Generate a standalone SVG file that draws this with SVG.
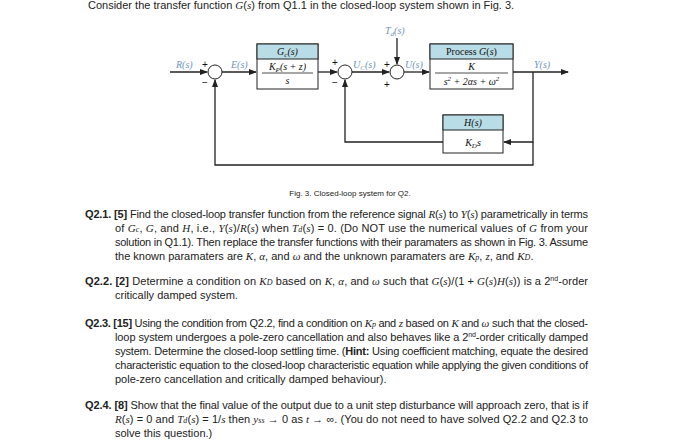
<svg xmlns="http://www.w3.org/2000/svg" width="700" height="447" viewBox="0 0 700 447">
<style>
.t{font-family:"Liberation Sans",Arial,sans-serif;font-size:11px;fill:#222}
.m{font-family:"Liberation Serif",serif;font-style:italic}
.b{font-weight:bold}
.lbl{font-family:"Liberation Serif",serif;font-style:italic;font-size:10px;fill:#6f93bd}
.sg{font-family:"Liberation Sans",sans-serif;font-size:10px;fill:#111}
.box{fill:#fff;stroke:#222;stroke-width:1}
.hd{fill:#b9dde6;stroke:#222;stroke-width:1}
.bt{font-family:"Liberation Serif",serif;font-size:10px;fill:#111;text-anchor:middle}
.ln{fill:none;stroke:#222;stroke-width:1.3}
.sum{fill:#fff;stroke:#222;stroke-width:1}
</style>
<defs><marker id="a" markerWidth="8" markerHeight="6" refX="7" refY="3" orient="auto" markerUnits="userSpaceOnUse"><path d="M0,0 L8,3 L0,6z" fill="#222"/></marker></defs>
<rect width="700" height="447" fill="#fff"/>
<text class="t" x="88" y="9">Consider the transfer function <tspan class="m">G</tspan>(<tspan class="m">s</tspan>) from Q1.1 in the closed-loop system shown in Fig. 3.</text>
<g id="connectors">
<path class="ln" d="M170,72 H207" marker-end="url(#a)"/>
<path class="ln" d="M222,72 H256" marker-end="url(#a)"/>
<path class="ln" d="M318,72 H337" marker-end="url(#a)"/>
<path class="ln" d="M352,72 H389" marker-end="url(#a)"/>
<path class="ln" d="M397,38 V64" marker-end="url(#a)"/>
<path class="ln" d="M404,72 H429" marker-end="url(#a)"/>
<path class="ln" d="M513,72 H568" marker-end="url(#a)"/>
<path class="ln" d="M533,72 V142 H504" marker-end="url(#a)"/>
<path class="ln" d="M443,142 H345 V80" marker-end="url(#a)"/>
<path class="ln" d="M533,142 V165 H215 V80" marker-end="url(#a)"/>
</g>
<g id="sum1"><circle class="sum" cx="215" cy="72" r="7"/><text class="sg" x="202" y="68">+</text><text class="sg" x="202" y="86">−</text></g>
<g id="sum2"><circle class="sum" cx="345" cy="72" r="7"/><text class="sg" x="332" y="66">+</text><text class="sg" x="332" y="86">−</text></g>
<g id="sum3"><circle class="sum" cx="397" cy="72" r="7"/><text class="sg" x="384" y="68">+</text><text class="sg" x="384" y="88">+</text></g>
<g id="labels">
<text class="lbl" x="176" y="68">R(s)</text>
<text class="lbl" x="231" y="68">E(s)</text>
<text class="lbl" x="353" y="68">U<tspan font-size="7" dy="2">C</tspan><tspan dy="-2">(s)</tspan></text>
<text class="lbl" x="405" y="68">U(s)</text>
<text class="lbl" x="385" y="34">T<tspan font-size="7" dy="2">d</tspan><tspan dy="-2">(s)</tspan></text>
<text class="lbl" x="534" y="68">Y(s)</text>
</g>
<g id="gc">
<rect class="box" x="257" y="44" width="61" height="45"/><rect class="hd" x="257" y="44" width="61" height="15"/>
<text class="bt" x="287.5" y="55"><tspan font-style="italic">G<tspan font-size="7" dy="2">c</tspan><tspan dy="-2">(s)</tspan></tspan></text>
<text class="bt" x="287.5" y="70" font-style="italic">K<tspan font-size="7" dy="2">P</tspan><tspan dy="-2">(s + z)</tspan></text>
<line x1="262" y1="73" x2="313" y2="73" stroke="#222" stroke-width="0.8"/>
<text class="bt" x="287.5" y="84" font-style="italic">s</text>
</g>
<g id="process">
<rect class="box" x="430" y="44" width="83" height="45"/><rect class="hd" x="430" y="44" width="83" height="15"/>
<text class="bt" x="471.5" y="55">Process <tspan font-style="italic">G</tspan>(<tspan font-style="italic">s</tspan>)</text>
<text class="bt" x="471.5" y="70" font-style="italic">K</text>
<line x1="435" y1="73" x2="508" y2="73" stroke="#222" stroke-width="0.8"/>
<text class="bt" x="471.5" y="85" font-style="italic">s<tspan font-size="7" dy="-4">2</tspan><tspan dy="4"> + 2αs + ω</tspan><tspan font-size="7" dy="-4">2</tspan></text>
</g>
<g id="h">
<rect class="box" x="443" y="115" width="60" height="38"/><rect class="hd" x="443" y="115" width="60" height="15"/>
<text class="bt" x="473" y="126" font-style="italic">H(s)</text>
<text class="bt" x="473" y="146" font-style="italic">K<tspan font-size="7" dy="2">D</tspan><tspan dy="-2">s</tspan></text>
</g>
<text class="t" x="350" y="196" style="font-size:8px" text-anchor="middle">Fig. 3. Closed-loop system for Q2.</text>
<g id="text">
<text class="t" x="85" y="218" textLength="503" lengthAdjust="spacing"><tspan class="b">Q2.1. [5]</tspan> Find the closed-loop transfer function from the reference signal <tspan class="m">R</tspan>(<tspan class="m">s</tspan>) to <tspan class="m">Y</tspan>(<tspan class="m">s</tspan>) parametrically in terms</text>
<text class="t" x="115" y="232" textLength="473" lengthAdjust="spacing">of <tspan class="m">G<tspan font-size="8">c</tspan></tspan>, <tspan class="m">G</tspan>, and <tspan class="m">H</tspan>, i.e., <tspan class="m">Y</tspan>(<tspan class="m">s</tspan>)/<tspan class="m">R</tspan>(<tspan class="m">s</tspan>) when <tspan class="m">T<tspan font-size="8">d</tspan></tspan>(<tspan class="m">s</tspan>) = 0. (Do NOT use the numerical values of <tspan class="m">G</tspan> from your</text>
<text class="t" x="115" y="246" textLength="473" lengthAdjust="spacing">solution in Q1.1). Then replace the transfer functions with their paramaters as shown in Fig. 3. Assume</text>
<text class="t" x="115" y="260">the known paramaters are <tspan class="m">K</tspan>, <tspan class="m">α</tspan>, and <tspan class="m">ω</tspan> and the unknown paramaters are <tspan class="m">K<tspan font-size="8">p</tspan></tspan>, <tspan class="m">z</tspan>, and <tspan class="m">K<tspan font-size="8">D</tspan></tspan>.</text>
<text class="t" x="85" y="285" textLength="503" lengthAdjust="spacing"><tspan class="b">Q2.2. [2]</tspan> Determine a condition on <tspan class="m">K<tspan font-size="8">D</tspan></tspan> based on <tspan class="m">K</tspan>, <tspan class="m">α</tspan>, and <tspan class="m">ω</tspan> such that <tspan class="m">G</tspan>(<tspan class="m">s</tspan>)/(1 + <tspan class="m">G</tspan>(<tspan class="m">s</tspan>)<tspan class="m">H</tspan>(<tspan class="m">s</tspan>)) is a 2<tspan font-size="7" dy="-4">nd</tspan><tspan dy="4">-order</tspan></text>
<text class="t" x="115" y="299">critically damped system.</text>
<text class="t" x="85" y="327" textLength="503" lengthAdjust="spacing"><tspan class="b">Q2.3. [15]</tspan> Using the condition from Q2.2, find a condition on <tspan class="m">K<tspan font-size="8">p</tspan></tspan> and <tspan class="m">z</tspan> based on <tspan class="m">K</tspan> and <tspan class="m">ω</tspan> such that the closed-</text>
<text class="t" x="115" y="341" textLength="473" lengthAdjust="spacing">loop system undergoes a pole-zero cancellation and also behaves like a 2<tspan font-size="7" dy="-4">nd</tspan><tspan dy="4">-order critically damped</tspan></text>
<text class="t" x="115" y="355" textLength="473" lengthAdjust="spacing">system. Determine the closed-loop settling time. (<tspan class="b">Hint:</tspan> Using coefficient matching, equate the desired</text>
<text class="t" x="115" y="369" textLength="473" lengthAdjust="spacing">characteristic equation to the closed-loop characteristic equation while applying the given conditions of</text>
<text class="t" x="115" y="383">pole-zero cancellation and critically damped behaviour).</text>
<text class="t" x="85" y="409" textLength="503" lengthAdjust="spacing"><tspan class="b">Q2.4. [8]</tspan> Show that the final value of the output due to a unit step disturbance will approach zero, that is if</text>
<text class="t" x="115" y="423" textLength="473" lengthAdjust="spacing"><tspan class="m">R</tspan>(<tspan class="m">s</tspan>) = 0 and <tspan class="m">T<tspan font-size="8">d</tspan></tspan>(<tspan class="m">s</tspan>) = 1/<tspan class="m">s</tspan> then <tspan class="m">y<tspan font-size="8">ss</tspan></tspan> → 0 as <tspan class="m">t</tspan> → ∞. (You do not need to have solved Q2.2 and Q2.3 to</text>
<text class="t" x="115" y="437">solve this question.)</text>
</g>
</svg>
